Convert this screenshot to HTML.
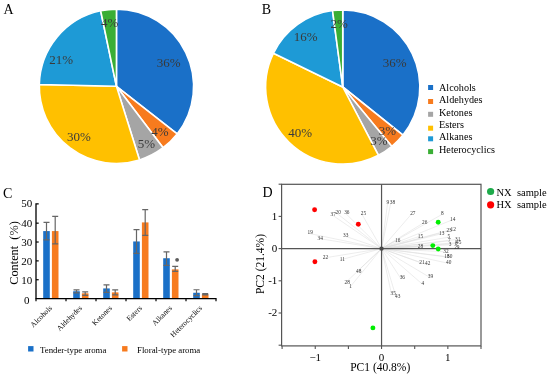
<!DOCTYPE html>
<html><head><meta charset="utf-8"><title>Figure</title>
<style>
html,body{margin:0;padding:0;background:#fff;}
body{width:550px;height:377px;overflow:hidden;position:relative;}
svg{position:absolute;left:0;top:0;font-family:"Liberation Serif",serif;will-change:transform;filter:blur(0.3px);}
</style></head><body>
<svg width="550" height="377" viewBox="0 0 550 377">
<path d="M116.45,86.30 L116.45,9.15 A77.15,77.15 0 0 1 177.16,133.90 Z" fill="#1A70C8" stroke="#fff" stroke-width="1.6" stroke-linejoin="round"/>
<path d="M116.45,86.30 L177.16,133.90 A77.15,77.15 0 0 1 163.09,147.75 Z" fill="#F77B1E" stroke="#fff" stroke-width="1.6" stroke-linejoin="round"/>
<path d="M116.45,86.30 L163.09,147.75 A77.15,77.15 0 0 1 139.52,159.92 Z" fill="#A5A5A5" stroke="#fff" stroke-width="1.6" stroke-linejoin="round"/>
<path d="M116.45,86.30 L139.52,159.92 A77.15,77.15 0 0 1 39.32,84.55 Z" fill="#FFC000" stroke="#fff" stroke-width="1.6" stroke-linejoin="round"/>
<path d="M116.45,86.30 L39.32,84.55 A77.15,77.15 0 0 1 100.67,10.78 Z" fill="#1E9AD6" stroke="#fff" stroke-width="1.6" stroke-linejoin="round"/>
<path d="M116.45,86.30 L100.67,10.78 A77.15,77.15 0 0 1 116.45,9.15 Z" fill="#3AAE35" stroke="#fff" stroke-width="1.6" stroke-linejoin="round"/>
<path d="M342.75,87.00 L342.75,9.90 A77.1,77.1 0 0 1 403.01,135.10 Z" fill="#1A70C8" stroke="#fff" stroke-width="1.6" stroke-linejoin="round"/>
<path d="M342.75,87.00 L403.01,135.10 A77.1,77.1 0 0 1 391.90,146.41 Z" fill="#F77B1E" stroke="#fff" stroke-width="1.6" stroke-linejoin="round"/>
<path d="M342.75,87.00 L391.90,146.41 A77.1,77.1 0 0 1 378.47,155.33 Z" fill="#A5A5A5" stroke="#fff" stroke-width="1.6" stroke-linejoin="round"/>
<path d="M342.75,87.00 L378.47,155.33 A77.1,77.1 0 0 1 273.45,53.20 Z" fill="#FFC000" stroke="#fff" stroke-width="1.6" stroke-linejoin="round"/>
<path d="M342.75,87.00 L273.45,53.20 A77.1,77.1 0 0 1 332.55,10.58 Z" fill="#1E9AD6" stroke="#fff" stroke-width="1.6" stroke-linejoin="round"/>
<path d="M342.75,87.00 L332.55,10.58 A77.1,77.1 0 0 1 342.75,9.90 Z" fill="#3AAE35" stroke="#fff" stroke-width="1.6" stroke-linejoin="round"/>
<text x="3.6" y="13.5" font-size="14" fill="#000" text-anchor="start" >A</text>
<text x="261.8" y="14.3" font-size="14" fill="#000" text-anchor="start" >B</text>
<text x="2.9" y="197.5" font-size="14" fill="#000" text-anchor="start" >C</text>
<text x="262.6" y="196.6" font-size="14" fill="#000" text-anchor="start" >D</text>
<text x="168.6" y="66.7" font-size="13" fill="#3a3a3a" text-anchor="middle" >36%</text>
<text x="159.9" y="135.7" font-size="13" fill="#3a3a3a" text-anchor="middle" >4%</text>
<text x="146.3" y="148.4" font-size="13" fill="#3a3a3a" text-anchor="middle" >5%</text>
<text x="78.8" y="141.1" font-size="13" fill="#3a3a3a" text-anchor="middle" >30%</text>
<text x="61.2" y="63.7" font-size="13" fill="#3a3a3a" text-anchor="middle" >21%</text>
<text x="109.6" y="26.5" font-size="13" fill="#3a3a3a" text-anchor="middle" >4%</text>
<text x="394.7" y="67.2" font-size="13" fill="#3a3a3a" text-anchor="middle" >36%</text>
<text x="387.3" y="135.0" font-size="13" fill="#3a3a3a" text-anchor="middle" >3%</text>
<text x="378.8" y="144.8" font-size="13" fill="#3a3a3a" text-anchor="middle" >3%</text>
<text x="300.1" y="137.4" font-size="13" fill="#3a3a3a" text-anchor="middle" >40%</text>
<text x="305.7" y="41.2" font-size="13" fill="#3a3a3a" text-anchor="middle" >16%</text>
<text x="339.1" y="27.6" font-size="13" fill="#3a3a3a" text-anchor="middle" >2%</text>
<rect x="428.1" y="85.00" width="5" height="5" fill="#1A70C8"/>
<text x="439" y="90.8" font-size="10.2" fill="#000" text-anchor="start" >Alcohols</text>
<rect x="428.1" y="99.00" width="5" height="5" fill="#F77B1E"/>
<text x="439" y="103.2" font-size="10.2" fill="#000" text-anchor="start" >Aldehydes</text>
<rect x="428.1" y="111.80" width="5" height="5" fill="#A5A5A5"/>
<text x="439" y="115.6" font-size="10.2" fill="#000" text-anchor="start" >Ketones</text>
<rect x="428.1" y="125.70" width="5" height="5" fill="#FFC000"/>
<text x="439" y="128.0" font-size="10.2" fill="#000" text-anchor="start" >Esters</text>
<rect x="428.1" y="136.30" width="5" height="5" fill="#1E9AD6"/>
<text x="439" y="140.4" font-size="10.2" fill="#000" text-anchor="start" >Alkanes</text>
<rect x="428.1" y="149.10" width="5" height="5" fill="#3AAE35"/>
<text x="439" y="152.8" font-size="10.2" fill="#000" text-anchor="start" >Heterocyclics</text>
<rect x="43.20" y="231.08" width="6.6" height="67.52" fill="#1A70C8"/>
<path d="M46.50,239.95 V222.41 M43.50,239.95 H49.50 M43.50,222.41 H49.50" stroke="#666" stroke-width="1.2" fill="none"/>
<rect x="51.90" y="231.08" width="6.6" height="67.52" fill="#F77B1E"/>
<path d="M55.20,243.91 V216.37 M52.20,243.91 H58.20 M52.20,216.37 H58.20" stroke="#666" stroke-width="1.2" fill="none"/>
<rect x="73.20" y="291.24" width="6.6" height="7.36" fill="#1A70C8"/>
<path d="M76.50,292.94 V289.92 M73.50,292.94 H79.50 M73.50,289.92 H79.50" stroke="#666" stroke-width="1.2" fill="none"/>
<rect x="81.90" y="293.32" width="6.6" height="5.28" fill="#F77B1E"/>
<path d="M85.20,295.39 V291.81 M82.20,295.39 H88.20 M82.20,291.81 H88.20" stroke="#666" stroke-width="1.2" fill="none"/>
<rect x="103.20" y="288.42" width="6.6" height="10.18" fill="#1A70C8"/>
<path d="M106.50,292.38 V284.83 M103.50,292.38 H109.50 M103.50,284.83 H109.50" stroke="#666" stroke-width="1.2" fill="none"/>
<rect x="111.90" y="292.38" width="6.6" height="6.22" fill="#F77B1E"/>
<path d="M115.20,294.83 V289.92 M112.20,294.83 H118.20 M112.20,289.92 H118.20" stroke="#666" stroke-width="1.2" fill="none"/>
<rect x="133.20" y="241.45" width="6.6" height="57.15" fill="#1A70C8"/>
<path d="M136.50,253.34 V229.57 M133.50,253.34 H139.50 M133.50,229.57 H139.50" stroke="#666" stroke-width="1.2" fill="none"/>
<rect x="141.90" y="222.41" width="6.6" height="76.19" fill="#F77B1E"/>
<path d="M145.20,235.42 V209.58 M142.20,235.42 H148.20 M142.20,209.58 H148.20" stroke="#666" stroke-width="1.2" fill="none"/>
<rect x="163.20" y="258.24" width="6.6" height="40.36" fill="#1A70C8"/>
<path d="M166.50,265.41 V251.83 M163.50,265.41 H169.50 M163.50,251.83 H169.50" stroke="#666" stroke-width="1.2" fill="none"/>
<rect x="171.90" y="269.37" width="6.6" height="29.23" fill="#F77B1E"/>
<path d="M175.20,271.44 V266.35 M172.20,271.44 H178.20 M172.20,266.35 H178.20" stroke="#666" stroke-width="1.2" fill="none"/>
<rect x="193.20" y="292.75" width="6.6" height="5.85" fill="#1A70C8"/>
<path d="M196.50,295.58 V289.74 M193.50,295.58 H199.50 M193.50,289.74 H199.50" stroke="#666" stroke-width="1.2" fill="none"/>
<rect x="201.90" y="294.26" width="6.6" height="4.34" fill="#F77B1E"/>
<path d="M205.20,294.83 V293.70 M202.20,294.83 H208.20 M202.20,293.70 H208.20" stroke="#666" stroke-width="1.2" fill="none"/>
<circle cx="177.1" cy="259.8" r="1.9" fill="#5c5c5c"/>
<path d="M36,298.6 V203.8 H38.7" stroke="#000" stroke-width="1.3" fill="none"/>
<path d="M36,279.74 H38.7" stroke="#000" stroke-width="1.2"/>
<path d="M36,260.88 H38.7" stroke="#000" stroke-width="1.2"/>
<path d="M36,242.02 H38.7" stroke="#000" stroke-width="1.2"/>
<path d="M36,223.16 H38.7" stroke="#000" stroke-width="1.2"/>
<path d="M35.4,298.6 H216.5" stroke="#000" stroke-width="1.4"/>
<path d="M36,298.6 V301.20000000000005" stroke="#000" stroke-width="1.2"/>
<path d="M66,298.6 V301.20000000000005" stroke="#000" stroke-width="1.2"/>
<path d="M96,298.6 V301.20000000000005" stroke="#000" stroke-width="1.2"/>
<path d="M126,298.6 V301.20000000000005" stroke="#000" stroke-width="1.2"/>
<path d="M156,298.6 V301.20000000000005" stroke="#000" stroke-width="1.2"/>
<path d="M186,298.6 V301.20000000000005" stroke="#000" stroke-width="1.2"/>
<path d="M216,298.6 V301.20000000000005" stroke="#000" stroke-width="1.2"/>
<text x="26.8" y="207.2" font-size="11" fill="#000" text-anchor="middle" >50</text>
<text x="26.8" y="226.52" font-size="11" fill="#000" text-anchor="middle" >40</text>
<text x="26.8" y="245.84" font-size="11" fill="#000" text-anchor="middle" >30</text>
<text x="26.8" y="265.16" font-size="11" fill="#000" text-anchor="middle" >20</text>
<text x="26.8" y="284.48" font-size="11" fill="#000" text-anchor="middle" >10</text>
<text x="26.8" y="303.8" font-size="11" fill="#000" text-anchor="middle" >0</text>
<text x="0" y="0" font-size="12.3" text-anchor="middle" transform="translate(18.4,253) rotate(-90)">Content&#160;&#160;(%)</text>
<text x="0" y="0" font-size="7.5" text-anchor="end" transform="translate(52.5,308.5) rotate(-45)">Alcohols</text>
<text x="0" y="0" font-size="7.5" text-anchor="end" transform="translate(82.5,308.5) rotate(-45)">Aldehydes</text>
<text x="0" y="0" font-size="7.5" text-anchor="end" transform="translate(112.5,308.5) rotate(-45)">Ketones</text>
<text x="0" y="0" font-size="7.5" text-anchor="end" transform="translate(142.5,308.5) rotate(-45)">Esters</text>
<text x="0" y="0" font-size="7.5" text-anchor="end" transform="translate(172.5,308.5) rotate(-45)">Alkanes</text>
<text x="0" y="0" font-size="7.5" text-anchor="end" transform="translate(202.5,308.5) rotate(-45)">Heterocyclics</text>
<rect x="28.1" y="346.1" width="5.4" height="5.4" fill="#1A70C8"/>
<text x="40" y="353" font-size="8.8" fill="#000" text-anchor="start" >Tender-type aroma</text>
<rect x="122.1" y="346.1" width="5.4" height="5.4" fill="#F77B1E"/>
<text x="137" y="353" font-size="8.8" fill="#000" text-anchor="start" >Floral-type aroma</text>
<line x1="381.55" y1="248.6" x2="331.5" y2="214.5" stroke="#dadada" stroke-width="0.5"/>
<line x1="381.55" y1="248.6" x2="336.5" y2="213.0" stroke="#dadada" stroke-width="0.5"/>
<line x1="381.55" y1="248.6" x2="345.2" y2="213.0" stroke="#dadada" stroke-width="0.5"/>
<line x1="381.55" y1="248.6" x2="361.8" y2="214.0" stroke="#dadada" stroke-width="0.5"/>
<line x1="381.55" y1="248.6" x2="308.5" y2="233.3" stroke="#dadada" stroke-width="0.5"/>
<line x1="381.55" y1="248.6" x2="318.5" y2="238.5" stroke="#dadada" stroke-width="0.5"/>
<line x1="381.55" y1="248.6" x2="344.0" y2="235.8" stroke="#dadada" stroke-width="0.5"/>
<line x1="381.55" y1="248.6" x2="323.8" y2="258.0" stroke="#dadada" stroke-width="0.5"/>
<line x1="381.55" y1="248.6" x2="340.8" y2="259.8" stroke="#dadada" stroke-width="0.5"/>
<line x1="381.55" y1="248.6" x2="357.0" y2="271.6" stroke="#dadada" stroke-width="0.5"/>
<line x1="381.55" y1="248.6" x2="345.5" y2="282.7" stroke="#dadada" stroke-width="0.5"/>
<line x1="381.55" y1="248.6" x2="350.3" y2="286.7" stroke="#dadada" stroke-width="0.5"/>
<line x1="381.55" y1="248.6" x2="387.6" y2="203.2" stroke="#dadada" stroke-width="0.5"/>
<line x1="381.55" y1="248.6" x2="390.8" y2="202.8" stroke="#dadada" stroke-width="0.5"/>
<line x1="381.55" y1="248.6" x2="411.2" y2="214.4" stroke="#dadada" stroke-width="0.5"/>
<line x1="381.55" y1="248.6" x2="442.0" y2="214.4" stroke="#dadada" stroke-width="0.5"/>
<line x1="381.55" y1="248.6" x2="423.0" y2="223.2" stroke="#dadada" stroke-width="0.5"/>
<line x1="381.55" y1="248.6" x2="451.0" y2="220.4" stroke="#dadada" stroke-width="0.5"/>
<line x1="381.55" y1="248.6" x2="447.4" y2="231.2" stroke="#dadada" stroke-width="0.5"/>
<line x1="381.55" y1="248.6" x2="451.6" y2="229.5" stroke="#dadada" stroke-width="0.5"/>
<line x1="381.55" y1="248.6" x2="440.1" y2="234.1" stroke="#dadada" stroke-width="0.5"/>
<line x1="381.55" y1="248.6" x2="418.8" y2="236.6" stroke="#dadada" stroke-width="0.5"/>
<line x1="381.55" y1="248.6" x2="396.1" y2="240.8" stroke="#dadada" stroke-width="0.5"/>
<line x1="381.55" y1="248.6" x2="448.6" y2="237.2" stroke="#dadada" stroke-width="0.5"/>
<line x1="381.55" y1="248.6" x2="448.9" y2="240.8" stroke="#dadada" stroke-width="0.5"/>
<line x1="381.55" y1="248.6" x2="456.1" y2="239.5" stroke="#dadada" stroke-width="0.5"/>
<line x1="381.55" y1="248.6" x2="455.7" y2="243.5" stroke="#dadada" stroke-width="0.5"/>
<line x1="381.55" y1="248.6" x2="457.0" y2="242.6" stroke="#dadada" stroke-width="0.5"/>
<line x1="381.55" y1="248.6" x2="449.8" y2="244.8" stroke="#dadada" stroke-width="0.5"/>
<line x1="381.55" y1="248.6" x2="418.8" y2="246.8" stroke="#dadada" stroke-width="0.5"/>
<line x1="381.55" y1="248.6" x2="455.2" y2="248.1" stroke="#dadada" stroke-width="0.5"/>
<line x1="381.55" y1="248.6" x2="444.3" y2="251.7" stroke="#dadada" stroke-width="0.5"/>
<line x1="381.55" y1="248.6" x2="445.2" y2="256.8" stroke="#dadada" stroke-width="0.5"/>
<line x1="381.55" y1="248.6" x2="448.0" y2="256.8" stroke="#dadada" stroke-width="0.5"/>
<line x1="381.55" y1="248.6" x2="447.0" y2="263.0" stroke="#dadada" stroke-width="0.5"/>
<line x1="381.55" y1="248.6" x2="420.3" y2="262.6" stroke="#dadada" stroke-width="0.5"/>
<line x1="381.55" y1="248.6" x2="426.1" y2="264.4" stroke="#dadada" stroke-width="0.5"/>
<line x1="381.55" y1="248.6" x2="428.8" y2="276.8" stroke="#dadada" stroke-width="0.5"/>
<line x1="381.55" y1="248.6" x2="400.7" y2="278.4" stroke="#dadada" stroke-width="0.5"/>
<line x1="381.55" y1="248.6" x2="422.6" y2="284.4" stroke="#dadada" stroke-width="0.5"/>
<line x1="381.55" y1="248.6" x2="391.6" y2="294.4" stroke="#dadada" stroke-width="0.5"/>
<line x1="381.55" y1="248.6" x2="396.1" y2="297.2" stroke="#dadada" stroke-width="0.5"/>
<rect x="281.6" y="184.3" width="199.4" height="161.6" fill="none" stroke="#555" stroke-width="1.2"/>
<path d="M381.55,184.3 V345.9 M281.6,248.6 H481" stroke="#555" stroke-width="1.2" fill="none"/>
<path d="M278.6,184.20 H281.6" stroke="#555" stroke-width="1.1"/>
<path d="M278.6,216.40 H281.6" stroke="#555" stroke-width="1.1"/>
<path d="M278.6,248.60 H281.6" stroke="#555" stroke-width="1.1"/>
<path d="M278.6,280.80 H281.6" stroke="#555" stroke-width="1.1"/>
<path d="M278.6,313.00 H281.6" stroke="#555" stroke-width="1.1"/>
<path d="M278.6,345.20 H281.6" stroke="#555" stroke-width="1.1"/>
<path d="M282.10,345.9 V348.9" stroke="#555" stroke-width="1.1"/>
<path d="M315.25,345.9 V348.9" stroke="#555" stroke-width="1.1"/>
<path d="M348.40,345.9 V348.9" stroke="#555" stroke-width="1.1"/>
<path d="M381.55,345.9 V348.9" stroke="#555" stroke-width="1.1"/>
<path d="M414.70,345.9 V348.9" stroke="#555" stroke-width="1.1"/>
<path d="M447.85,345.9 V348.9" stroke="#555" stroke-width="1.1"/>
<path d="M481.00,345.9 V348.9" stroke="#555" stroke-width="1.1"/>
<text x="330.5" y="215.5" font-size="5.3" fill="#333" text-anchor="start" >37</text>
<text x="335.5" y="214.0" font-size="5.3" fill="#333" text-anchor="start" >20</text>
<text x="344.2" y="214.0" font-size="5.3" fill="#333" text-anchor="start" >36</text>
<text x="360.8" y="215.0" font-size="5.3" fill="#333" text-anchor="start" >25</text>
<text x="307.5" y="234.3" font-size="5.3" fill="#333" text-anchor="start" >19</text>
<text x="317.5" y="239.5" font-size="5.3" fill="#333" text-anchor="start" >34</text>
<text x="343.0" y="236.8" font-size="5.3" fill="#333" text-anchor="start" >33</text>
<text x="322.8" y="259.0" font-size="5.3" fill="#333" text-anchor="start" >22</text>
<text x="339.8" y="260.8" font-size="5.3" fill="#333" text-anchor="start" >11</text>
<text x="356.0" y="272.6" font-size="5.3" fill="#333" text-anchor="start" >48</text>
<text x="344.5" y="283.7" font-size="5.3" fill="#333" text-anchor="start" >28</text>
<text x="349.3" y="287.7" font-size="5.3" fill="#333" text-anchor="start" >1</text>
<text x="386.6" y="204.2" font-size="5.3" fill="#333" text-anchor="start" >9</text>
<text x="389.8" y="203.8" font-size="5.3" fill="#333" text-anchor="start" >38</text>
<text x="410.2" y="215.4" font-size="5.3" fill="#333" text-anchor="start" >27</text>
<text x="441.0" y="215.4" font-size="5.3" fill="#333" text-anchor="start" >8</text>
<text x="422.0" y="224.2" font-size="5.3" fill="#333" text-anchor="start" >26</text>
<text x="450.0" y="221.4" font-size="5.3" fill="#333" text-anchor="start" >14</text>
<text x="446.4" y="232.2" font-size="5.3" fill="#333" text-anchor="start" >23</text>
<text x="450.6" y="230.5" font-size="5.3" fill="#333" text-anchor="start" >12</text>
<text x="439.1" y="235.1" font-size="5.3" fill="#333" text-anchor="start" >13</text>
<text x="417.8" y="237.6" font-size="5.3" fill="#333" text-anchor="start" >15</text>
<text x="395.1" y="241.8" font-size="5.3" fill="#333" text-anchor="start" >16</text>
<text x="447.6" y="238.2" font-size="5.3" fill="#333" text-anchor="start" >5</text>
<text x="447.9" y="241.8" font-size="5.3" fill="#333" text-anchor="start" >7</text>
<text x="455.1" y="240.5" font-size="5.3" fill="#333" text-anchor="start" >31</text>
<text x="454.7" y="244.5" font-size="5.3" fill="#333" text-anchor="start" >6</text>
<text x="456.0" y="243.6" font-size="5.3" fill="#333" text-anchor="start" >45</text>
<text x="448.8" y="245.8" font-size="5.3" fill="#333" text-anchor="start" >3</text>
<text x="417.8" y="247.8" font-size="5.3" fill="#333" text-anchor="start" >28</text>
<text x="454.2" y="249.1" font-size="5.3" fill="#333" text-anchor="start" >29</text>
<text x="443.3" y="252.7" font-size="5.3" fill="#333" text-anchor="start" >32</text>
<text x="444.2" y="257.8" font-size="5.3" fill="#333" text-anchor="start" >18</text>
<text x="447.0" y="257.8" font-size="5.3" fill="#333" text-anchor="start" >30</text>
<text x="446.0" y="264.0" font-size="5.3" fill="#333" text-anchor="start" >40</text>
<text x="419.3" y="263.6" font-size="5.3" fill="#333" text-anchor="start" >21</text>
<text x="425.1" y="265.4" font-size="5.3" fill="#333" text-anchor="start" >42</text>
<text x="427.8" y="277.8" font-size="5.3" fill="#333" text-anchor="start" >39</text>
<text x="399.7" y="279.4" font-size="5.3" fill="#333" text-anchor="start" >36</text>
<text x="421.6" y="285.4" font-size="5.3" fill="#333" text-anchor="start" >4</text>
<text x="390.6" y="295.4" font-size="5.3" fill="#333" text-anchor="start" >35</text>
<text x="395.1" y="298.2" font-size="5.3" fill="#333" text-anchor="start" >43</text>
<circle cx="381.55" cy="248.6" r="2.2" fill="#4a4a4a"/>
<circle cx="314.6" cy="209.8" r="2.45" fill="#FF0000"/>
<circle cx="358.3" cy="224.3" r="2.45" fill="#FF0000"/>
<circle cx="314.9" cy="261.7" r="2.45" fill="#FF0000"/>
<circle cx="438.2" cy="222.3" r="2.45" fill="#00EE00"/>
<circle cx="432.8" cy="245.6" r="2.45" fill="#00EE00"/>
<circle cx="438.2" cy="249.0" r="2.45" fill="#00EE00"/>
<circle cx="372.9" cy="327.9" r="2.45" fill="#00EE00"/>
<text x="277.3" y="219.6" font-size="11" fill="#000" text-anchor="end" >1</text>
<text x="277.3" y="251.8" font-size="11" fill="#000" text-anchor="end" >0</text>
<text x="277.3" y="284.0" font-size="11" fill="#000" text-anchor="end" >-1</text>
<text x="277.3" y="316.2" font-size="11" fill="#000" text-anchor="end" >-2</text>
<text x="315.25" y="360.8" font-size="11" fill="#000" text-anchor="middle" >&#8722;1</text>
<text x="381.55" y="360.8" font-size="11" fill="#000" text-anchor="middle" >0</text>
<text x="447.85" y="360.8" font-size="11" fill="#000" text-anchor="middle" >1</text>
<text x="350.2" y="371.2" font-size="11.5" fill="#000" text-anchor="start" >PC1 (40.8%)</text>
<text x="0" y="0" font-size="11.5" text-anchor="middle" transform="translate(264.1,264) rotate(-90)">PC2 (21.4%)</text>
<circle cx="490.6" cy="191.5" r="3.6" fill="#1DAA4A"/>
<circle cx="490.6" cy="204.8" r="3.6" fill="#FF0000"/>
<text x="496.5" y="195.5" font-size="10.5" fill="#000" text-anchor="start" >NX&#160;&#160;sample</text>
<text x="496.5" y="207.8" font-size="10.5" fill="#000" text-anchor="start" >HX&#160;&#160;sample</text>
</svg>
</body></html>
